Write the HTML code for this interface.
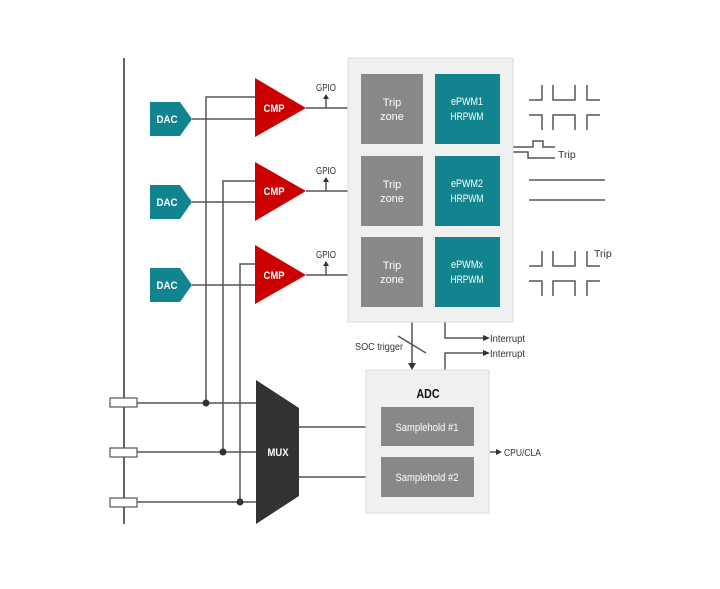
<!DOCTYPE html>
<html><head><style>body{margin:0;background:#fff}</style></head><body>
<svg width="720" height="584" viewBox="0 0 720 584" xmlns="http://www.w3.org/2000/svg" font-family="Liberation Sans, sans-serif">
<rect width="720" height="584" fill="#fff"/>
<g stroke="#555" stroke-width="1.5" fill="none">
<line x1="124" y1="58" x2="124" y2="524" stroke="#666" stroke-width="2"/>
<polyline points="256,97 206,97 206,403"/>
<polyline points="256,181 223,181 223,452"/>
<polyline points="256,264 240,264 240,502"/>
<line x1="192" y1="119" x2="256" y2="119"/>
<line x1="192" y1="202" x2="256" y2="202"/>
<line x1="192" y1="285" x2="256" y2="285"/>
<line x1="137" y1="403" x2="257" y2="403"/>
<line x1="137" y1="452" x2="257" y2="452"/>
<line x1="137" y1="502" x2="257" y2="502"/>
<line x1="306" y1="108" x2="348" y2="108"/>
<line x1="306" y1="191" x2="348" y2="191"/>
<line x1="306" y1="275" x2="348" y2="275"/>
<line x1="326" y1="108" x2="326" y2="98"/>
<line x1="326" y1="191" x2="326" y2="181"/>
<line x1="326" y1="275" x2="326" y2="265"/>
<line x1="299" y1="427" x2="366" y2="427"/>
<line x1="299" y1="477" x2="366" y2="477"/>
<line x1="412" y1="322" x2="412" y2="364"/>
<line x1="398" y1="336" x2="426" y2="353"/>
<polyline points="445,322 445,338 484,338"/>
<polyline points="445,370 445,353 484,353"/>
<line x1="490" y1="452" x2="498" y2="452"/>
<polyline points="529,100 542,100 542,85"/><polyline points="553,85 553,100 575,100 575,85"/><polyline points="587,85 587,100 600,100"/>
<polyline points="529,115 542,115 542,130"/><polyline points="553,130 553,115 575,115 575,130"/><polyline points="587,130 587,115 600,115"/>
<polyline points="513,147 533,147 533,141 543,141 543,147 555,147"/>
<polyline points="513,152 528,152 528,158 555,158"/>
<line x1="529" y1="180" x2="605" y2="180"/><line x1="529" y1="200" x2="605" y2="200"/>
<polyline points="529,266 542,266 542,251"/><polyline points="553,251 553,266 575,266 575,251"/><polyline points="587,251 587,266 600,266"/>
<polyline points="529,281 542,281 542,296"/><polyline points="553,296 553,281 575,281 575,296"/><polyline points="587,296 587,281 600,281"/>
</g>
<g fill="#333">
<polygon points="323,99 326,94 329,99"/><polygon points="323,182 326,177 329,182"/><polygon points="323,266 326,261 329,266"/>
<polygon points="408,363 412,370 416,363"/>
<polygon points="483,335 490,338 483,341"/><polygon points="483,350 490,353 483,356"/><polygon points="496,449 502,452 496,455"/>
<circle cx="206" cy="403" r="3.5"/><circle cx="223" cy="452" r="3.5"/><circle cx="240" cy="502" r="3.5"/>
</g>
<g fill="#fff" stroke="#555" stroke-width="1.2">
<rect x="110" y="398" width="27" height="9"/><rect x="110" y="448" width="27" height="9"/><rect x="110" y="498" width="27" height="9"/>
</g>
<g fill="#12848f">
<polygon points="150,102 180,102 192,119 180,136 150,136"/>
<polygon points="150,185 180,185 192,202 180,219 150,219"/>
<polygon points="150,268 180,268 192,285 180,302 150,302"/>
</g>
<g fill="#cc0000">
<polygon points="255,78 306,108 255,137"/><polygon points="255,162 306,191 255,221"/><polygon points="255,245 306,275 255,304"/>
</g>
<rect x="348" y="58" width="165" height="264" fill="#f0f0f0" stroke="#ddd"/>
<g fill="#888"><rect x="361" y="74" width="62" height="70"/><rect x="361" y="156" width="62" height="70"/><rect x="361" y="237" width="62" height="70"/></g>
<g fill="#12848f"><rect x="435" y="74" width="65" height="70"/><rect x="435" y="156" width="65" height="70"/><rect x="435" y="237" width="65" height="70"/></g>
<rect x="366" y="370" width="123" height="143" fill="#f0f0f0" stroke="#ddd"/>
<rect x="381" y="407" width="93" height="39" fill="#888"/><rect x="381" y="457" width="93" height="40" fill="#888"/>
<polygon points="256,380 299,408 299,496 256,524" fill="#333"/>
<g fill="#fff" font-weight="bold" font-size="11" text-anchor="middle">
<text x="167" y="123" textLength="21" lengthAdjust="spacingAndGlyphs">DAC</text><text x="167" y="206" textLength="21" lengthAdjust="spacingAndGlyphs">DAC</text><text x="167" y="289" textLength="21" lengthAdjust="spacingAndGlyphs">DAC</text>
<text x="274" y="112" textLength="21" lengthAdjust="spacingAndGlyphs">CMP</text><text x="274" y="195" textLength="21" lengthAdjust="spacingAndGlyphs">CMP</text><text x="274" y="279" textLength="21" lengthAdjust="spacingAndGlyphs">CMP</text>
<text x="278" y="456" textLength="21" lengthAdjust="spacingAndGlyphs">MUX</text>
</g>
<g fill="#fff" font-size="11" text-anchor="middle">
<text x="392" y="106">Trip</text><text x="392" y="120">zone</text>
<text x="392" y="188">Trip</text><text x="392" y="202">zone</text>
<text x="392" y="269">Trip</text><text x="392" y="283">zone</text>
<text x="467" y="105" textLength="32" lengthAdjust="spacingAndGlyphs">ePWM1</text><text x="467" y="120" textLength="33" lengthAdjust="spacingAndGlyphs">HRPWM</text>
<text x="467" y="187" textLength="32" lengthAdjust="spacingAndGlyphs">ePWM2</text><text x="467" y="202" textLength="33" lengthAdjust="spacingAndGlyphs">HRPWM</text>
<text x="467" y="268" textLength="32" lengthAdjust="spacingAndGlyphs">ePWMx</text><text x="467" y="283" textLength="33" lengthAdjust="spacingAndGlyphs">HRPWM</text>
<text x="427" y="431" textLength="63" lengthAdjust="spacingAndGlyphs">Samplehold #1</text><text x="427" y="481" textLength="63" lengthAdjust="spacingAndGlyphs">Samplehold #2</text>
</g>
<g fill="#333" font-size="10.5">
<text x="316" y="91" textLength="20" lengthAdjust="spacingAndGlyphs">GPIO</text><text x="316" y="174" textLength="20" lengthAdjust="spacingAndGlyphs">GPIO</text><text x="316" y="258" textLength="20" lengthAdjust="spacingAndGlyphs">GPIO</text>
<text x="558" y="158">Trip</text><text x="594" y="257">Trip</text>
<text x="355" y="350" textLength="48" lengthAdjust="spacingAndGlyphs">SOC trigger</text>
<text x="490" y="342" textLength="35" lengthAdjust="spacingAndGlyphs">Interrupt</text><text x="490" y="357" textLength="35" lengthAdjust="spacingAndGlyphs">Interrupt</text>
<text x="504" y="456" textLength="37" lengthAdjust="spacingAndGlyphs">CPU/CLA</text>
</g>
<text x="428" y="398" font-size="13" font-weight="bold" text-anchor="middle" fill="#111" textLength="23" lengthAdjust="spacingAndGlyphs">ADC</text>
</svg>
</body></html>
